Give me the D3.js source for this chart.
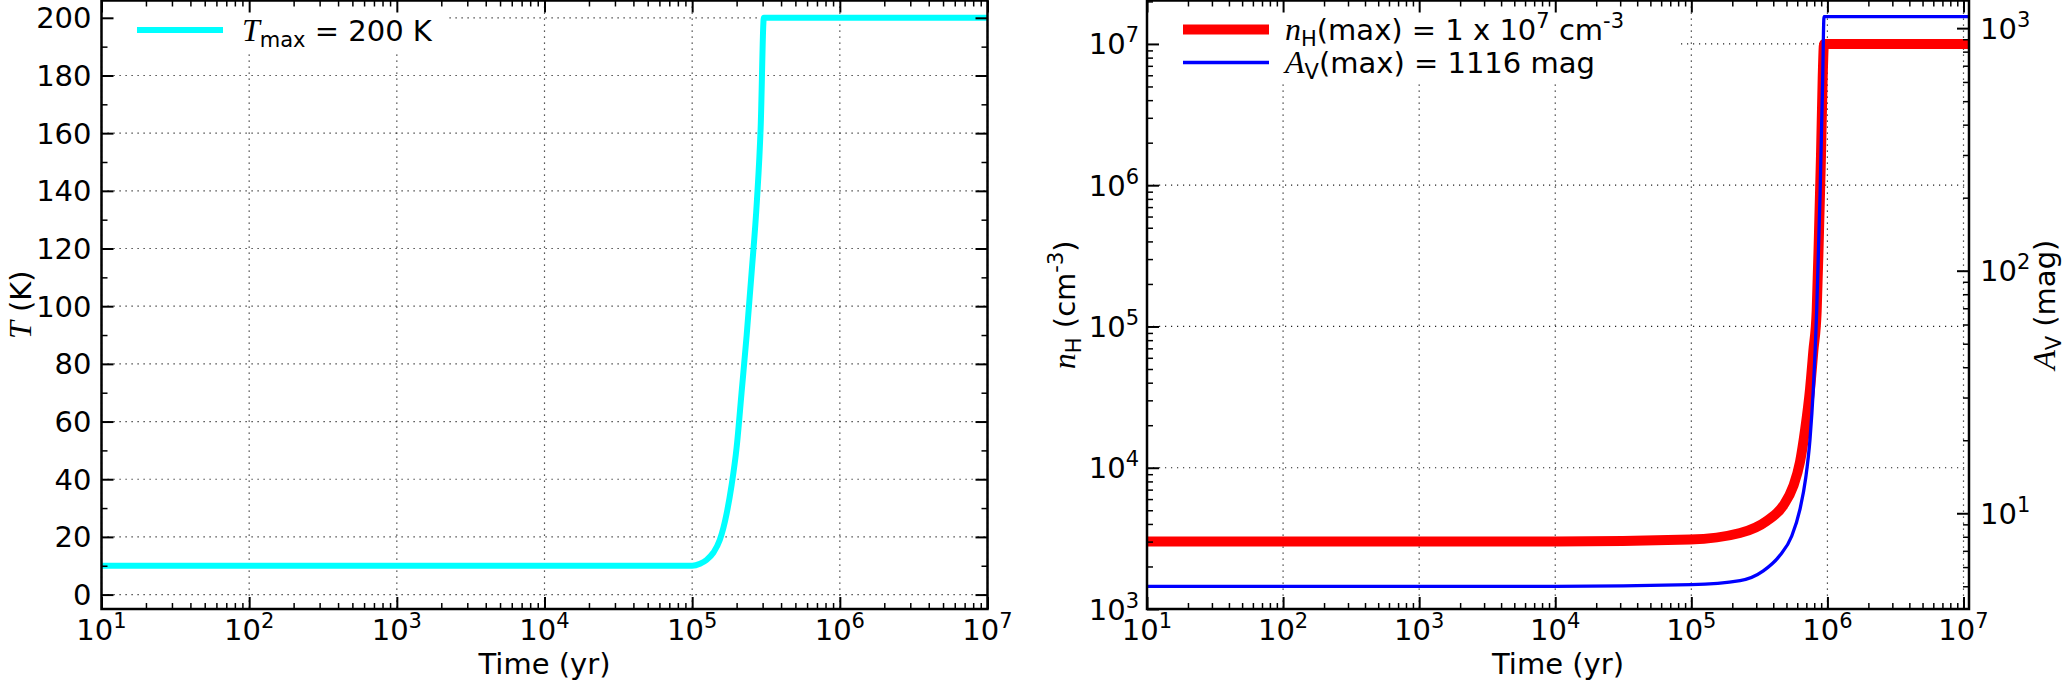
<!DOCTYPE html>
<html>
<head>
<meta charset="utf-8">
<script src="https://cdn.jsdelivr.net/npm/d3@7"></script>
<style>
  body { margin: 0; background: #fff; }
  svg { display: block; font-family: "DejaVu Sans", sans-serif; }
</style>
</head>
<body>
<svg id="fig" width="2070" height="684"></svg>
<script>
// left panel: temperature vs time
const tempTime = [10, 1e5, 1.13e5, 1.25e5, 1.39e5, 1.54e5, 1.71e5, 1.85e5, 2.0e5, 2.16e5, 2.34e5, 2.53e5, 2.74e5, 2.91e5, 3.06e5, 1e7];
const tempK = [10, 10, 10.7, 12, 14.5, 19, 28, 38, 51, 70, 90, 112, 136, 162, 200, 200];

// right panel: density (left axis) and extinction (right axis)
const densTime = [10, 1e4, 9.8e4, 2.28e5, 3.58e5, 4.74e5, 5.61e5, 6.29e5, 6.85e5, 7.45e5, 7.88e5, 8.34e5, 8.67e5, 8.97e5, 9.23e5, 9.44e5, 1.1e7];
const densNH = [3.0e3, 3.0e3, 3.1e3, 3.45e3, 4.2e3, 5.4e3, 7.4e3, 1.1e4, 1.85e4, 3.6e4, 6.7e4, 1.29e5, 4.6e5, 1.62e6, 5.75e6, 1.0e7, 1.0e7];
const extTime = [10, 1e4, 1e5, 2.28e5, 3.38e5, 4.48e5, 5.47e5, 6.29e5, 6.93e5, 7.45e5, 7.88e5, 8.34e5, 8.83e5, 9.23e5, 9.44e5, 1.1e7];
const extAV = [5.0, 5.0, 5.08, 5.28, 5.79, 6.71, 8.06, 10.4, 14.0, 20.2, 32.6, 68.2, 206, 622, 1116, 1116];

const tempTicks = [0, 20, 40, 60, 80, 100, 120, 140, 160, 180, 200];
const tempMinor = [10, 30, 50, 70, 90, 110, 130, 150, 170, 190];

const svg = d3.select("#fig");
const SERIF = "Liberation Serif, serif";
const FS = 29;

const isPow = (v) => Math.abs(Math.log10(v) - Math.round(Math.log10(v))) < 1e-9;

// scales
const L = { x0: 101.5, x1: 987.5, y0: 0.5, y1: 609 };
const xL = d3.scaleLog().domain([10, 1e7]).range([L.x0, L.x1]);
const yL = d3.scaleLinear().domain([-5, 206]).range([L.y1, L.y0]);

const R = { x0: 1147, x1: 1969, y0: 0.5, y1: 609 };
const xR = d3.scaleLog().domain([10, 1.0975e7]).range([R.x0, R.x1]);
const yR = d3.scaleLog().domain([1e3, 2.03e7]).range([R.y1, R.y0]);
const yA = d3.scaleLog().domain([4.03, 1300]).range([R.y1, R.y0]);

function supText(t, base, exp) {
  t.append("tspan").text(base);
  t.append("tspan").attr("dy", -12).attr("font-size", 21).text(exp);
}

function grid(g, xs, ys, xScale, yScale, box) {
  const gg = g.append("g")
    .attr("stroke", "#222")
    .attr("stroke-width", 1.2)
    .attr("stroke-dasharray", "1.2,4.8");
  xs.forEach((v) => {
    gg.append("line")
      .attr("x1", xScale(v)).attr("x2", xScale(v))
      .attr("y1", box.y0).attr("y2", box.y1);
  });
  ys.forEach((v) => {
    gg.append("line")
      .attr("x1", box.x0).attr("x2", box.x1)
      .attr("y1", yScale(v)).attr("y2", yScale(v));
  });
}

function ticks(g, axisFn, scale, values, len, width, transform) {
  g.append("g")
    .attr("transform", transform)
    .call(axisFn(scale).tickValues(values).tickSize(-len).tickFormat(""))
    .call((a) => a.select(".domain").remove())
    .call((a) => a.selectAll(".tick line").attr("stroke", "#000").attr("stroke-width", width));
}

function frame(g, box) {
  g.append("rect")
    .attr("x", box.x0).attr("y", box.y0)
    .attr("width", box.x1 - box.x0).attr("height", box.y1 - box.y0)
    .attr("fill", "none").attr("stroke", "#000").attr("stroke-width", 2.5);
}

function xLabels(g, xScale, majors, box) {
  majors.forEach((v) => {
    const t = g.append("text")
      .attr("x", xScale(v)).attr("y", 640)
      .attr("text-anchor", "middle").attr("font-size", FS);
    supText(t, "10", Math.round(Math.log10(v)));
  });
  g.append("text")
    .attr("x", (box.x0 + box.x1) / 2).attr("y", 674)
    .attr("text-anchor", "middle").attr("font-size", FS)
    .text("Time (yr)");
}

// ================= left panel =================
const gl = svg.append("g");
svg.append("clipPath").attr("id", "clipL").append("rect")
  .attr("x", L.x0).attr("y", L.y0).attr("width", L.x1 - L.x0).attr("height", L.y1 - L.y0);

const xMajL = xL.ticks().filter(isPow);
const xMinL = xL.ticks().filter((v) => !isPow(v));

grid(gl, xMajL, tempTicks, xL, yL, L);

// legend background hides grid
gl.append("rect").attr("x", L.x0).attr("y", 0).attr("width", 445 - L.x0).attr("height", 50).attr("fill", "#fff");

gl.append("path")
  .datum(tempTime.map((t, i) => [t, tempK[i]]))
  .attr("clip-path", "url(#clipL)")
  .attr("fill", "none")
  .attr("stroke", "#00ffff")
  .attr("stroke-width", 6)
  .attr("stroke-linejoin", "round")
  .attr("d", d3.line().x((d) => xL(d[0])).y((d) => yL(d[1])).curve(d3.curveMonotoneX));

ticks(gl, d3.axisBottom, xL, xMajL, 12, 2, `translate(0,${L.y1})`);
ticks(gl, d3.axisBottom, xL, xMinL, 6, 1.5, `translate(0,${L.y1})`);
ticks(gl, d3.axisTop, xL, xMajL, 12, 2, `translate(0,${L.y0})`);
ticks(gl, d3.axisTop, xL, xMinL, 6, 1.5, `translate(0,${L.y0})`);
ticks(gl, d3.axisLeft, yL, tempTicks, 12, 2, `translate(${L.x0},0)`);
ticks(gl, d3.axisLeft, yL, tempMinor, 6, 1.5, `translate(${L.x0},0)`);
ticks(gl, d3.axisRight, yL, tempTicks, 12, 2, `translate(${L.x1},0)`);
ticks(gl, d3.axisRight, yL, tempMinor, 6, 1.5, `translate(${L.x1},0)`);
frame(gl, L);

tempTicks.forEach((v) => {
  gl.append("text")
    .attr("x", L.x0 - 10).attr("y", yL(v) + 10.5)
    .attr("text-anchor", "end").attr("font-size", FS)
    .text(v);
});
xLabels(gl, xL, xMajL, L);

const tl = gl.append("text")
  .attr("transform", `translate(31,${(L.y0 + L.y1) / 2}) rotate(-90)`)
  .attr("text-anchor", "middle").attr("font-size", FS);
tl.append("tspan").attr("font-family", SERIF).attr("font-style", "italic").attr("font-size", 32).text("T");
tl.append("tspan").text(" (K)");

// legend
gl.append("line").attr("x1", 137).attr("x2", 223).attr("y1", 30).attr("y2", 30)
  .attr("stroke", "#00ffff").attr("stroke-width", 6);
const lt = gl.append("text").attr("x", 242).attr("y", 41).attr("font-size", FS);
lt.append("tspan").attr("font-family", SERIF).attr("font-style", "italic").attr("font-size", 32).text("T");
lt.append("tspan").attr("dy", 6).attr("font-size", 21).text("max");
lt.append("tspan").attr("dy", -6).text(" = 200 K");

// ================= right panel =================
const gr = svg.append("g");
svg.append("clipPath").attr("id", "clipR").append("rect")
  .attr("x", R.x0).attr("y", R.y0).attr("width", R.x1 - R.x0).attr("height", R.y1 - R.y0);

const xMajR = xR.ticks().filter(isPow);
const xMinR = xR.ticks().filter((v) => !isPow(v));
const yMajR = yR.ticks().filter(isPow);
const yMinR = yR.ticks().filter((v) => !isPow(v));
const aMaj = yA.ticks().filter(isPow);
const aMin = yA.ticks().filter((v) => !isPow(v));

grid(gr, xMajR, yMajR, xR, yR, R);

gr.append("rect").attr("x", R.x0).attr("y", 0).attr("width", 1677 - R.x0).attr("height", 80).attr("fill", "#fff");

gr.append("path")
  .datum(densTime.map((t, i) => [t, densNH[i]]))
  .attr("clip-path", "url(#clipR)")
  .attr("fill", "none")
  .attr("stroke", "#ff0000")
  .attr("stroke-width", 10)
  .attr("stroke-linejoin", "round")
  .attr("d", d3.line().x((d) => xR(d[0])).y((d) => yR(d[1])).curve(d3.curveMonotoneX));

gr.append("path")
  .datum(extTime.map((t, i) => [t, extAV[i]]))
  .attr("clip-path", "url(#clipR)")
  .attr("fill", "none")
  .attr("stroke", "#0000ff")
  .attr("stroke-width", 3.3)
  .attr("stroke-linejoin", "round")
  .attr("d", d3.line().x((d) => xR(d[0])).y((d) => yA(d[1])).curve(d3.curveMonotoneX));

ticks(gr, d3.axisBottom, xR, xMajR, 12, 2, `translate(0,${R.y1})`);
ticks(gr, d3.axisBottom, xR, xMinR, 6, 1.5, `translate(0,${R.y1})`);
ticks(gr, d3.axisTop, xR, xMajR, 12, 2, `translate(0,${R.y0})`);
ticks(gr, d3.axisTop, xR, xMinR, 6, 1.5, `translate(0,${R.y0})`);
ticks(gr, d3.axisLeft, yR, yMajR, 12, 2, `translate(${R.x0},0)`);
ticks(gr, d3.axisLeft, yR, yMinR, 6, 1.5, `translate(${R.x0},0)`);
ticks(gr, d3.axisRight, yA, aMaj, 12, 2, `translate(${R.x1},0)`);
ticks(gr, d3.axisRight, yA, aMin, 6, 1.5, `translate(${R.x1},0)`);
frame(gr, R);

yMajR.forEach((v) => {
  const t = gr.append("text")
    .attr("x", R.x0 - 8).attr("y", yR(v) + 10.5)
    .attr("text-anchor", "end").attr("font-size", FS);
  supText(t, "10", Math.round(Math.log10(v)));
});
aMaj.forEach((v) => {
  const t = gr.append("text")
    .attr("x", R.x1 + 11).attr("y", yA(v) + 10.5)
    .attr("font-size", FS);
  supText(t, "10", Math.round(Math.log10(v)));
});
xLabels(gr, xR, xMajR, R);

const nl = gr.append("text")
  .attr("transform", `translate(1075,${(R.y0 + R.y1) / 2}) rotate(-90)`)
  .attr("text-anchor", "middle").attr("font-size", FS);
nl.append("tspan").attr("font-family", SERIF).attr("font-style", "italic").attr("font-size", 32).text("n");
nl.append("tspan").attr("dy", 6).attr("font-size", 21).text("H");
nl.append("tspan").attr("dy", -6).text(" (cm");
nl.append("tspan").attr("dy", -12).attr("font-size", 21).text("-3");
nl.append("tspan").attr("dy", 12).text(")");

const al = gr.append("text")
  .attr("transform", `translate(2055,${(R.y0 + R.y1) / 2}) rotate(-90)`)
  .attr("text-anchor", "middle").attr("font-size", FS);
al.append("tspan").attr("font-family", SERIF).attr("font-style", "italic").attr("font-size", 32).text("A");
al.append("tspan").attr("dy", 6).attr("font-size", 21).text("V");
al.append("tspan").attr("dy", -6).text(" (mag)");

// legend
gr.append("line").attr("x1", 1183).attr("x2", 1269).attr("y1", 29.5).attr("y2", 29.5)
  .attr("stroke", "#ff0000").attr("stroke-width", 10);
gr.append("line").attr("x1", 1183).attr("x2", 1269).attr("y1", 62.5).attr("y2", 62.5)
  .attr("stroke", "#0000ff").attr("stroke-width", 3.5);

const l1 = gr.append("text").attr("x", 1285).attr("y", 40).attr("font-size", FS);
l1.append("tspan").attr("font-family", SERIF).attr("font-style", "italic").attr("font-size", 32).text("n");
l1.append("tspan").attr("dy", 6).attr("font-size", 21).text("H");
l1.append("tspan").attr("dy", -6).text("(max) = 1 x 10");
l1.append("tspan").attr("dy", -12).attr("font-size", 21).text("7");
l1.append("tspan").attr("dy", 12).text(" cm");
l1.append("tspan").attr("dy", -12).attr("font-size", 21).text("-3");

const l2 = gr.append("text").attr("x", 1285).attr("y", 73).attr("font-size", FS);
l2.append("tspan").attr("font-family", SERIF).attr("font-style", "italic").attr("font-size", 32).text("A");
l2.append("tspan").attr("dy", 6).attr("font-size", 21).text("V");
l2.append("tspan").attr("dy", -6).text("(max) = 1116 mag");
</script>
</body>
</html>
